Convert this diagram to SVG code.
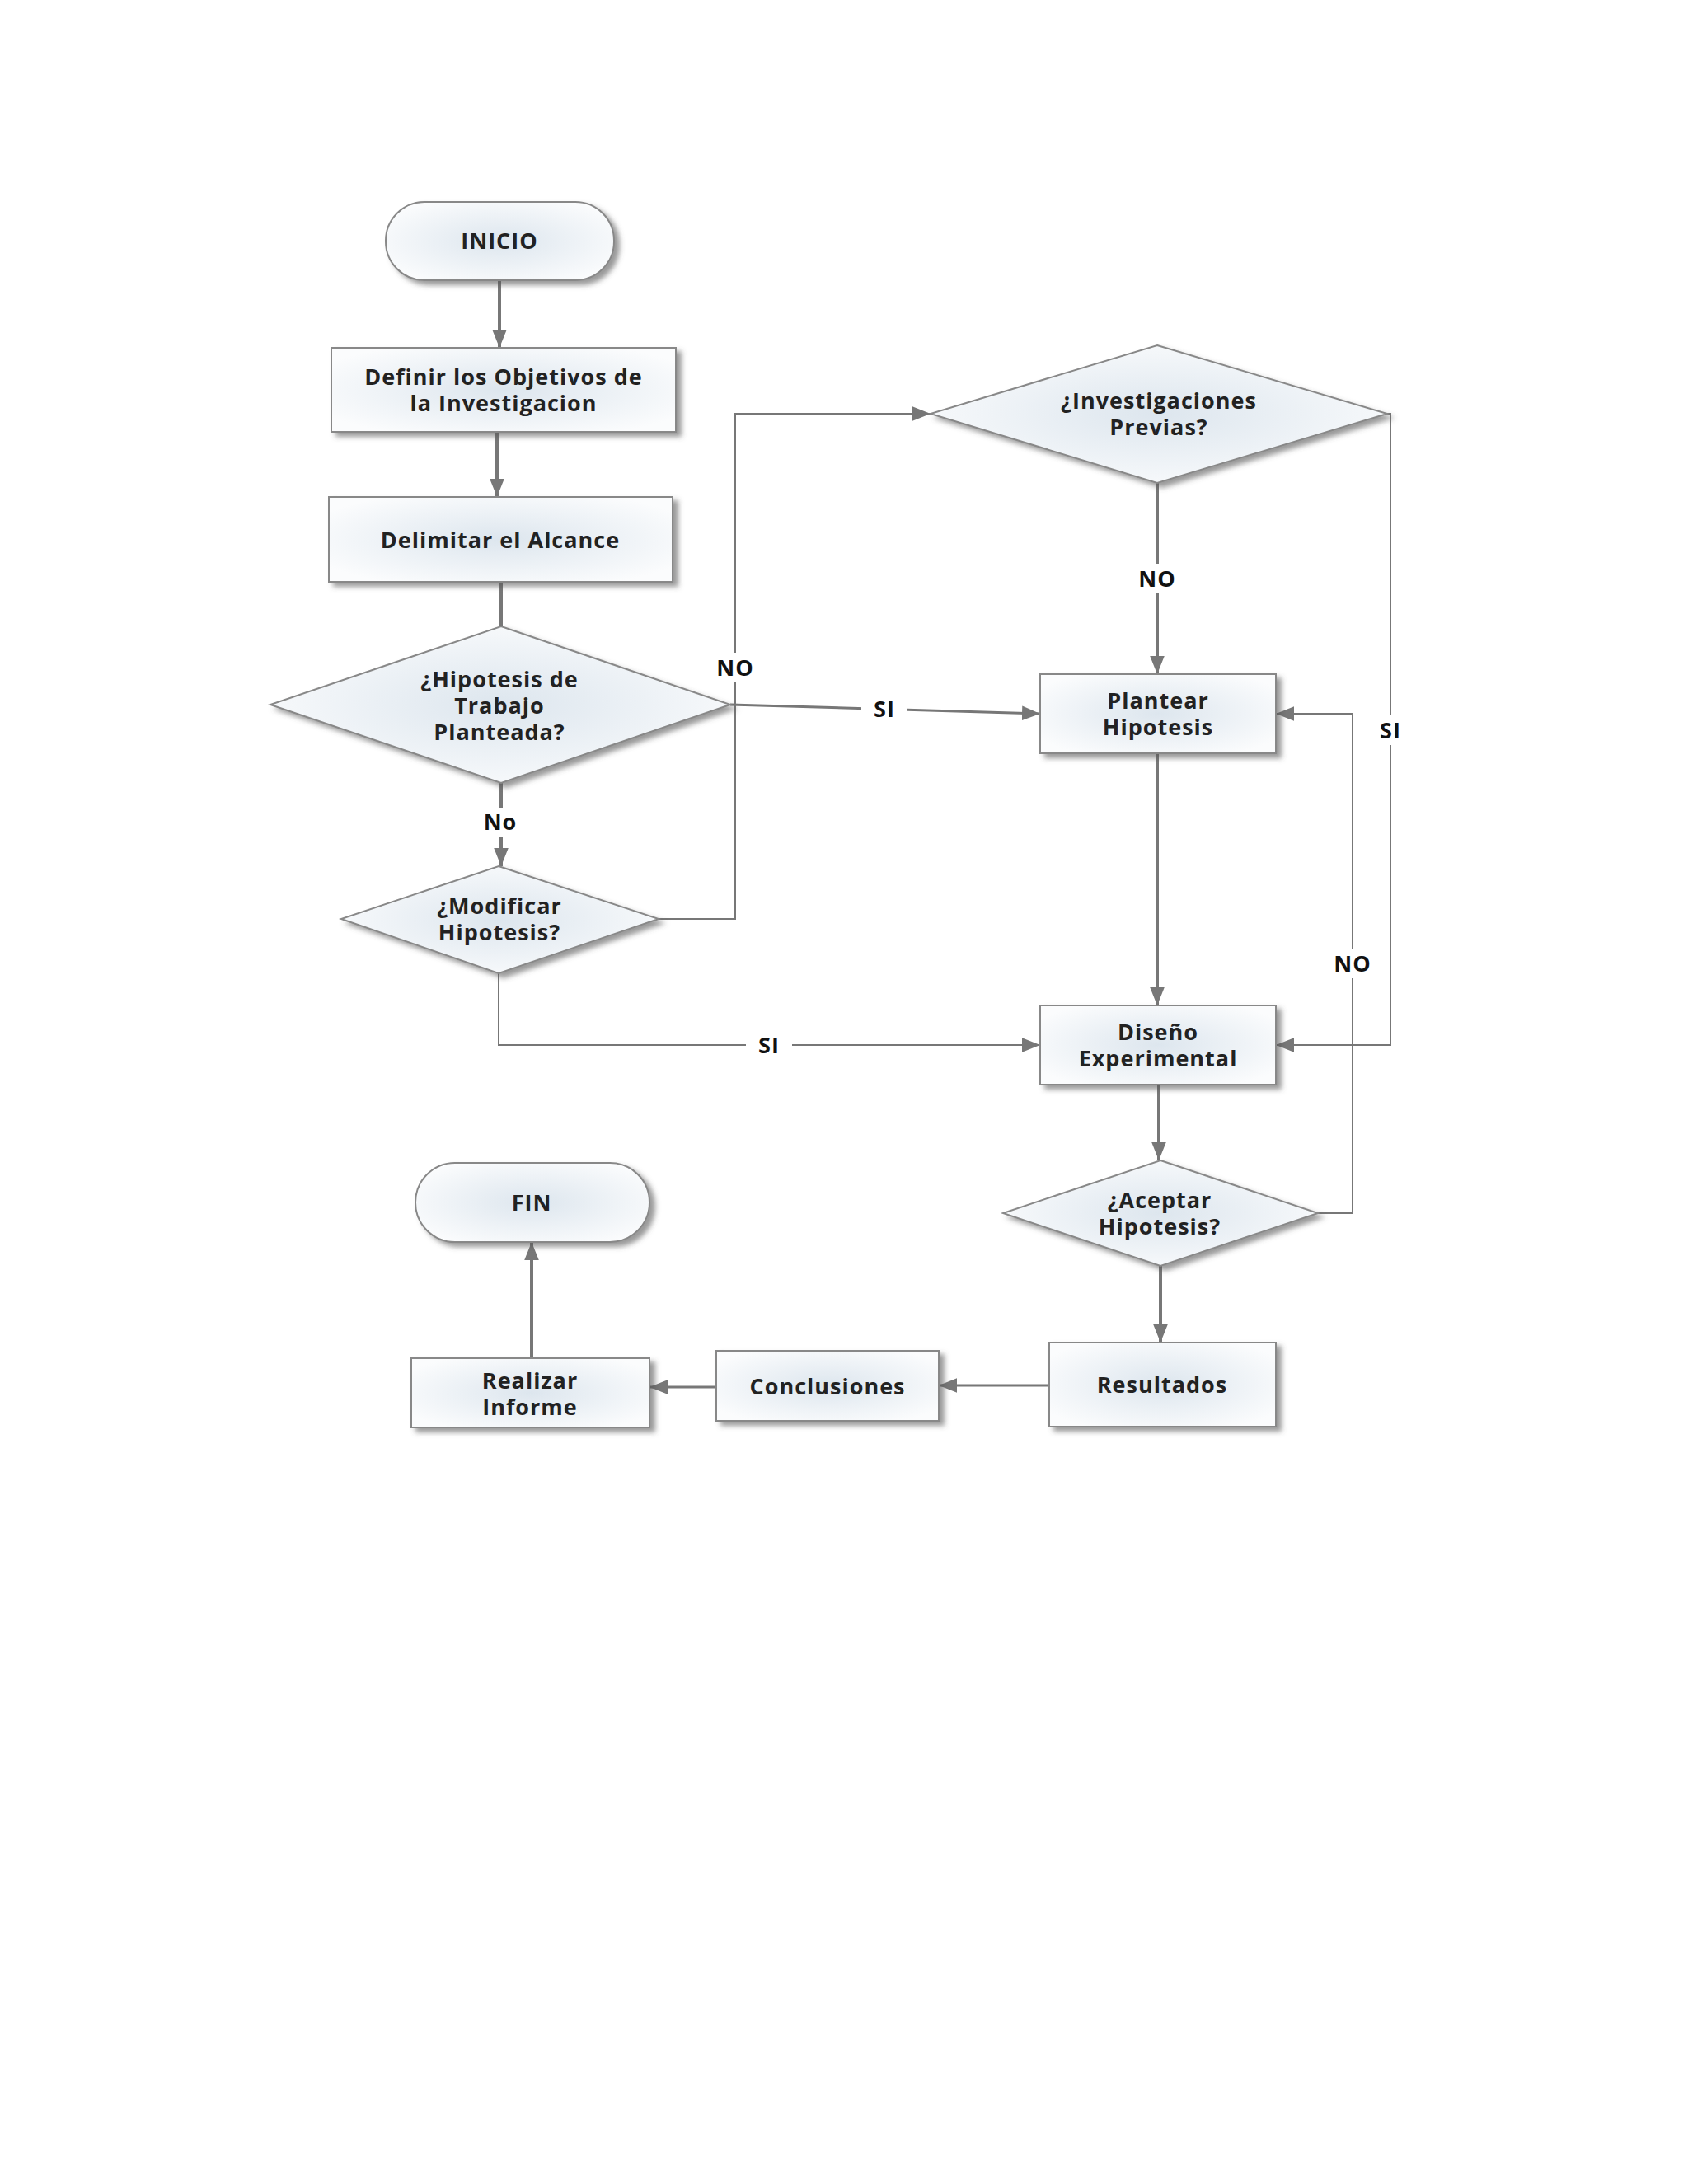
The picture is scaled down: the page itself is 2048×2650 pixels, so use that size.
<svg xmlns="http://www.w3.org/2000/svg" width="2048" height="2650" viewBox="0 0 2048 2650">
<defs>
<radialGradient id="g" cx="50%" cy="50%" r="60%"><stop offset="0" stop-color="#dde6ee"/><stop offset="1" stop-color="#fbfcfd"/></radialGradient>
<filter id="sh" x="-10%" y="-10%" width="125%" height="130%"><feDropShadow dx="6" dy="5" stdDeviation="3" flood-color="#555" flood-opacity="0.6"/></filter>
<marker id="a" viewBox="0 0 10 10" refX="10" refY="5" markerWidth="7" markerHeight="7" orient="auto" markerUnits="userSpaceOnUse" style="overflow:visible"><path d="M0,0 L10,5 L0,10 z" fill="#777"/></marker>
<marker id="b" viewBox="0 0 10 10" refX="10" refY="5" markerWidth="22" markerHeight="22" orient="auto" markerUnits="userSpaceOnUse"><path d="M0,1 L10,5 L0,9 z" fill="#777"/></marker>
</defs>
<style>
.n{fill:url(#g);stroke:#888;stroke-width:2;filter:url(#sh)}
.t{font-family:"Open Sans","DejaVu Sans",sans-serif;font-weight:bold;font-size:27px;fill:#222;text-anchor:middle;letter-spacing:1px}
.c{fill:none;stroke:#777;stroke-width:2;marker-end:url(#b)}
.k{fill:none;stroke:#777;stroke-width:4;marker-end:url(#b)}
.l{font-family:"Open Sans","DejaVu Sans",sans-serif;font-weight:bold;font-size:27px;fill:#111;text-anchor:middle;letter-spacing:1px}
.bg{fill:#fff}
</style>
<rect width="2048" height="2650" fill="#fff"/>
<g id="connectors">
<path class="k" d="M606,340 V422"/>
<path class="k" d="M603,524 V603"/>
<path class="k" d="M608,706 V760" style="marker-end:none"/>
<path class="k" d="M608,950 V1051"/>
<path class="c" d="M886,855 L1262,866" style="stroke-width:3"/>
<path class="c" d="M799,1115 H892 V502 H1129"/>
<path class="k" d="M1404,586 V818"/>
<path class="c" d="M1683,502 H1687 V1268 H1548"/>
<path class="k" d="M1404,914 V1220"/>
<path class="c" d="M605,1181 V1268 H1262"/>
<path class="k" d="M1406,1316 V1408"/>
<path class="c" d="M1599,1472 H1641 V866 H1548"/>
<path class="k" d="M1408,1536 V1629"/>
<path class="c" d="M1273,1681 H1139" style="stroke-width:3"/>
<path class="c" d="M869,1683 H788" style="stroke-width:3"/>
<path class="k" d="M645,1648 V1507"/>
<rect class="bg" x="1045" y="842" width="56" height="36"/><text class="l" x="1073" y="870">SI</text>
<rect class="bg" x="860" y="792" width="64" height="36"/><text class="l" x="892" y="820">NO</text>
<rect class="bg" x="1372" y="684" width="64" height="36"/><text class="l" x="1404" y="712">NO</text>
<rect class="bg" x="1662" y="868" width="50" height="36"/><text class="l" x="1687" y="896">SI</text>
<rect class="bg" x="905" y="1250" width="56" height="36"/><text class="l" x="933" y="1278">SI</text>
<rect class="bg" x="1609" y="1151" width="64" height="36"/><text class="l" x="1641" y="1179">NO</text>
<rect class="bg" x="578" y="980" width="60" height="36"/><text class="l" x="607" y="1007">No</text>
</g>
<g id="inicio"><rect class="n" x="468" y="245" width="277" height="95" rx="47"/><text class="t" x="606" y="302">INICIO</text></g>
<g id="definir"><rect class="n" x="402" y="422" width="418" height="102"/><text class="t" x="611" y="467">Definir los Objetivos de</text><text class="t" x="611" y="499">la Investigacion</text></g>
<g id="delimitar"><rect class="n" x="399" y="603" width="417" height="103"/><text class="t" x="607" y="665">Delimitar el Alcance</text></g>
<g id="hipotesis"><polygon class="n" points="608,760 886,855 608,950 328,855"/><text class="t" x="606" y="834">¿Hipotesis de</text><text class="t" x="606" y="866">Trabajo</text><text class="t" x="606" y="898">Planteada?</text></g>
<g id="modificar"><polygon class="n" points="605,1051 799,1115 605,1181 414,1115"/><text class="t" x="606" y="1109">¿Modificar</text><text class="t" x="606" y="1141">Hipotesis?</text></g>
<g id="investigaciones"><polygon class="n" points="1404,419 1683,502 1404,586 1129,502"/><text class="t" x="1406" y="496">¿Investigaciones</text><text class="t" x="1406" y="528">Previas?</text></g>
<g id="plantear"><rect class="n" x="1262" y="818" width="286" height="96"/><text class="t" x="1405" y="860">Plantear</text><text class="t" x="1405" y="892">Hipotesis</text></g>
<g id="diseno"><rect class="n" x="1262" y="1220" width="286" height="96"/><text class="t" x="1405" y="1262">Diseño</text><text class="t" x="1405" y="1294">Experimental</text></g>
<g id="aceptar"><polygon class="n" points="1408,1408 1599,1472 1408,1536 1217,1472"/><text class="t" x="1407" y="1466">¿Aceptar</text><text class="t" x="1407" y="1498">Hipotesis?</text></g>
<g id="resultados"><rect class="n" x="1273" y="1629" width="275" height="102"/><text class="t" x="1410" y="1690">Resultados</text></g>
<g id="conclusiones"><rect class="n" x="869" y="1639" width="270" height="85"/><text class="t" x="1004" y="1692">Conclusiones</text></g>
<g id="realizar"><rect class="n" x="499" y="1648" width="289" height="84"/><text class="t" x="643" y="1685">Realizar</text><text class="t" x="643" y="1717">Informe</text></g>
<g id="fin"><rect class="n" x="504" y="1411" width="284" height="96" rx="48"/><text class="t" x="645" y="1469">FIN</text></g>
</svg>
